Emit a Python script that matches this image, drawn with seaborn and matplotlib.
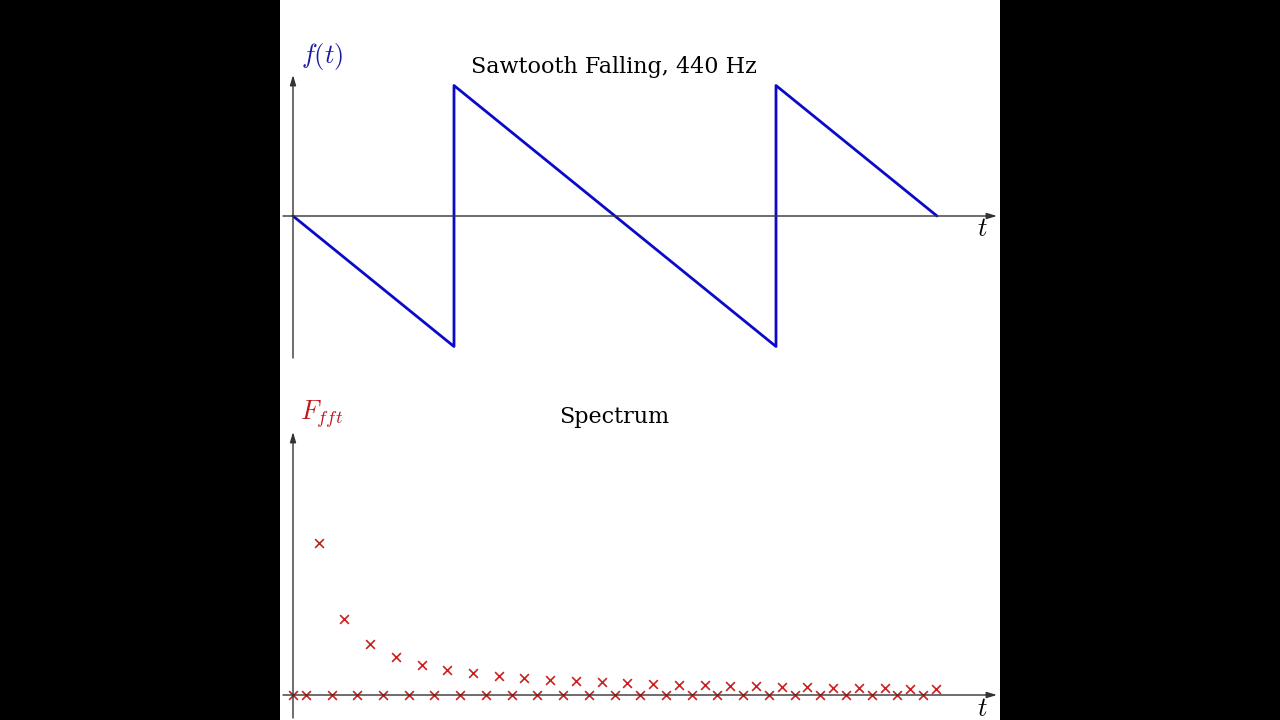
import matplotlib
matplotlib.use("Agg")
import matplotlib.pyplot as plt
import seaborn as sns
import pandas as pd

sns.set_theme(style="white")
plt.rcParams['font.family'] = ['DejaVu Serif']
plt.rcParams['mathtext.fontset'] = 'cm'

# Waveform (time in periods, amplitude)
wave_t = [0.0, 0.5, 0.5, 1.5, 1.5, 2.0]
wave_f = [0.0, -1.0, 1.0, -1.0, 1.0, 0.0]

# Spectrum (bin index, magnitude)
spec_idx = list(range(51))
harm = [1.0, 0.5, 0.333, 0.25, 0.2, 0.167, 0.143, 0.125, 0.111, 0.1, 0.091, 0.083,
        0.077, 0.071, 0.067, 0.063, 0.059, 0.056, 0.053, 0.05, 0.048, 0.045, 0.043, 0.042, 0.04]
spec_val = [0.0, 0.0]
for h in harm:
    spec_val += [h, 0.0]
spec_val = spec_val[:51]

W, H = 1280, 720
fig = plt.figure(figsize=(12.8, 7.2), dpi=100, facecolor='black')
bg = fig.add_axes([280 / W, 0, 720 / W, 1], zorder=-5)
bg.set_facecolor('white'); bg.set_xticks([]); bg.set_yticks([])
for s in bg.spines.values():
    s.set_visible(False)

def make_ax(l, r, t, b):
    ax = fig.add_axes([l / W, 1 - b / H, (r - l) / W, (b - t) / H], zorder=1)
    ax.set_facecolor('none')
    for s in ax.spines.values():
        s.set_visible(False)
    return ax

def finish(ax):
    ax.set_xticks([]); ax.set_yticks([])
    ax.set_xlabel(''); ax.set_ylabel('')
    x1, x2 = ax.get_xlim(); y1, y2 = ax.get_ylim()
    kw = dict(arrowstyle='-|>,head_length=0.5,head_width=0.15', color='#333333', lw=1,
              shrinkA=0, shrinkB=0)
    ax.annotate('', xy=(x2, 0), xytext=(x1, 0), arrowprops=kw, annotation_clip=False)
    ax.annotate('', xy=(0, y2), xytext=(0, y1), arrowprops=kw, annotation_clip=False)

# Top plot
ax1 = make_ax(283, 997, 75, 358)
df1 = pd.DataFrame({'t': wave_t, 'f': wave_f})
sns.lineplot(data=df1, x='t', y='f', sort=False, estimator=None, color='#0a0ac8', lw=2, ax=ax1, zorder=3)
ax1.set_xlim(-10 / 322, 704 / 322)
ax1.set_ylim(-142 / 130.5, 141 / 130.5)
finish(ax1)
fig.text(322 / W, 1 - 57 / H, r'$f(t)$', color='#1a1aa8', fontsize=19, ha='center', va='center')
fig.text(614 / W, 1 - 67 / H, 'Sawtooth Falling, 440 Hz', fontsize=16, ha='center', va='center', color='black')
fig.text(982 / W, 1 - 228 / H, r'$t$', fontsize=19, ha='center', va='center', color='black')

# Bottom plot
ax2 = make_ax(283, 997, 432, 718)
df2 = pd.DataFrame({'k': spec_idx, 'v': spec_val})
sns.scatterplot(data=df2, x='k', y='v', marker='x', color='#cc2020', s=40, linewidth=1.2, ax=ax2, zorder=3)
ax2.set_xlim(-10 / 12.86, 704 / 12.86)
ax2.set_ylim(-23 / 152, 263 / 152)
finish(ax2)
fig.text(322 / W, 1 - 414 / H, r'$F_{fft}$', color='#c01818', fontsize=19, ha='center', va='center')
fig.text(614 / W, 1 - 417 / H, 'Spectrum', fontsize=16, ha='center', va='center', color='black')
fig.text(982 / W, 1 - 708 / H, r'$t$', fontsize=19, ha='center', va='center', color='black')

fig.savefig('out.png', dpi=100, facecolor='black')
